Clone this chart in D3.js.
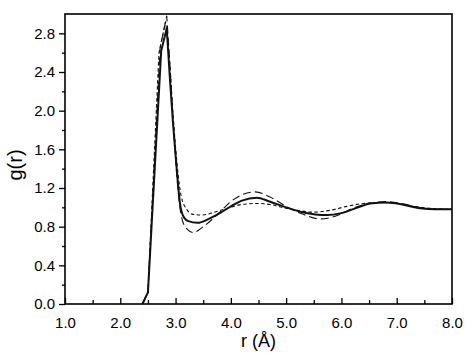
<!DOCTYPE html>
<html><head><meta charset="utf-8">
<script src="https://cdn.jsdelivr.net/npm/d3@7"></script>
<style>body{margin:0;background:#fff}svg{display:block}text{font-family:"Liberation Sans",Arial,sans-serif;fill:#000}</style>
</head><body><svg id="c" width="474" height="358"></svg>
<script>
const xTicks = [1.0,2.0,3.0,4.0,5.0,6.0,7.0,8.0];
const yTicks = [0.0,0.4,0.8,1.2,1.6,2.0,2.4,2.8];
const solidR = [2.40,2.50,2.74,2.84,2.90,2.95,3.02,3.08,3.13,3.22,3.40,3.60,3.80,4.00,4.20,4.47,4.70,5.00,5.30,5.74,6.00,6.30,6.52,6.82,7.10,7.42,7.70,8.00];
const solidG = [0.00,0.12,2.62,2.85,2.31,1.90,1.40,1.04,0.92,0.86,0.84,0.88,0.94,1.01,1.07,1.10,1.06,1.00,0.95,0.92,0.94,1.00,1.04,1.05,1.03,0.99,0.98,0.98];
const longR = [2.40,2.50,2.72,2.84,2.90,2.95,3.00,3.05,3.10,3.20,3.32,3.50,3.80,4.00,4.20,4.44,4.70,5.00,5.30,5.61,5.90,6.20,6.50,6.80,7.10,7.40,7.70,8.00];
const longG = [0.00,0.12,2.65,2.98,2.45,1.95,1.50,1.15,0.92,0.78,0.74,0.80,0.95,1.06,1.13,1.16,1.11,1.01,0.93,0.88,0.91,0.99,1.04,1.06,1.04,1.00,0.98,0.98];
const shortR = [2.40,2.50,2.70,2.82,2.90,2.95,3.00,3.05,3.10,3.20,3.30,3.48,3.70,4.00,4.20,4.49,4.70,5.00,5.20,5.48,5.80,6.10,6.40,6.70,7.00,7.30,7.60,8.00];
const shortG = [0.00,0.12,2.60,2.92,2.45,2.00,1.62,1.32,1.12,0.98,0.93,0.92,0.95,1.00,1.03,1.04,1.03,0.99,0.97,0.95,0.97,1.01,1.04,1.05,1.04,1.01,0.99,0.98];

const svg = d3.select("#c");
const L=65, R=452, T=14, B=304;
const x = d3.scaleLinear().domain([1,8]).range([L,R]);
const y = d3.scaleLinear().domain([0,3]).range([B,T]);

// x axis (ticks inward)
const xMinor = d3.range(1.5,8,1);
const gx = svg.append("g").attr("transform",`translate(0,${B})`);
gx.call(d3.axisBottom(x).tickValues(xMinor).tickSize(-4).tickFormat(""));
const gx2 = svg.append("g").attr("transform",`translate(0,${B})`)
  .call(d3.axisBottom(x).tickValues(xTicks).tickSize(-6).tickPadding(0).tickFormat(d3.format(".1f")));
gx2.selectAll("text").attr("y",24).attr("font-size",15).attr("dy",0);

// y axis (ticks outward)
const yMinor = d3.range(0.2,3.0,0.4);
const gy = svg.append("g").attr("transform",`translate(${L},0)`);
gy.call(d3.axisLeft(y).tickValues(yMinor).tickSize(3).tickFormat(""));
const gy2 = svg.append("g").attr("transform",`translate(${L},0)`)
  .call(d3.axisLeft(y).tickValues(yTicks).tickSize(6).tickPadding(4).tickFormat(d3.format(".1f")));
gy2.selectAll("text").attr("font-size",15);
svg.selectAll(".domain").remove();
svg.selectAll("g.tick line").attr("stroke","#000").attr("stroke-width",1.3);
svg.selectAll("g").attr("font-family",null);

// frame
svg.append("rect").attr("x",L).attr("y",T).attr("width",R-L).attr("height",B-T)
  .attr("fill","none").attr("stroke","#000").attr("stroke-width",1.6);

const lineLin = d3.line().x(d=>x(d[0])).y(d=>y(d[1]));
const lineSm = d3.line().x(d=>x(d[0])).y(d=>y(d[1])).curve(d3.curveMonotoneX);
const series = [
  {r:longR,g:longG,w:1.1,dash:"8,4"},
  {r:shortR,g:shortG,w:1.1,dash:"3.5,2.5"},
  {r:solidR,g:solidG,w:2,dash:null}
];
series.forEach(s=>{
  const pts = s.r.map((r,i)=>[r,s.g[i]]);
  const pk = d3.maxIndex(s.g);
  const d = lineLin(pts.slice(0,pk+1)) + lineSm(pts.slice(pk)).replace(/^M[^A-Za-z]*/,"");
  svg.append("path").attr("d",lineLin(pts.slice(0,pk+1)) + "L" + lineSm(pts.slice(pk)).slice(1))
    .attr("fill","none").attr("stroke","#111").attr("stroke-linejoin","round")
    .attr("stroke-width",s.w).attr("stroke-dasharray",s.dash);
});

svg.append("text").attr("x",(L+R)/2).attr("y",347).attr("text-anchor","middle")
  .attr("font-size",18).text("r (Å)");
svg.append("text").attr("transform","translate(22,165) rotate(-90)").attr("text-anchor","middle")
  .attr("font-size",20).text("g(r)");
</script></body></html>
